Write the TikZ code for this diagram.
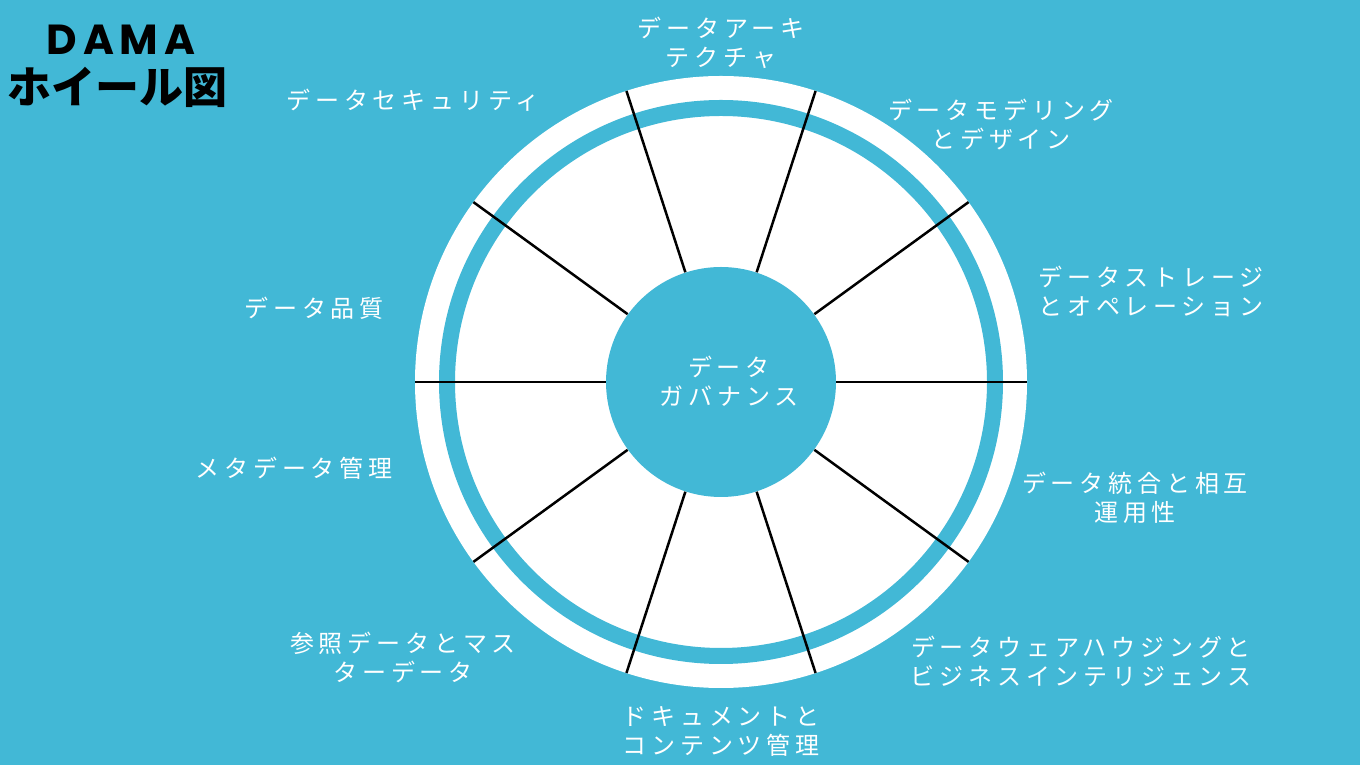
\documentclass[tikz,border=0pt]{standalone}
\usepackage{fontspec}
\newfontfamily\jpfont[LetterSpace=20]{Noto Sans CJK JP}
\newfontfamily\jptitle{Noto Sans CJK JP}
\newfontfamily\damafont[LetterSpace=14]{Poppins}
\definecolor{wheelblue}{RGB}{66,184,214}
\tikzset{
  lbl/.style={text=white, align=center, font=\jpfont\fontsize{12pt}{14.5pt}\selectfont},
  spoke/.style={black, line width=1.25pt},
  ttl/.style={inner sep=0pt, anchor=base, text depth=0pt},
}
\def\outerrad{306}
\def\ringrad{274}
\def\hubrad{115}

\begin{document}
\begin{tikzpicture}[x=0.5pt,y=0.5pt]
        % background
        \fill[wheelblue] (0,0) rectangle (1360,765);
        \useasboundingbox (0,0) rectangle (1360,765);
        % wheel
        \coordinate (c) at (721,383);
        \fill[white] (c) circle (\outerrad);
        \draw[wheelblue, line width=8pt] (c) circle (\ringrad);
        \node[circle, fill=wheelblue, inner sep=0pt, minimum size=\hubrad pt] (hub) at (c) {};
        % spokes
        \foreach \a in {0,36,...,324}
            \draw[spoke] (hub.\a) -- ([shift={(\a:\outerrad)}]c);
        % title
        \node[ttl, text height=14pt, font=\damafont\bfseries\fontsize{21pt}{24pt}\selectfont] (dama) at (121,710) {DAMA};
        \node[ttl, text height=19pt, font=\jptitle\bfseries\fontsize{22pt}{26pt}\selectfont] (title) at (118,661) {ホイール図};
        % knowledge areas
        \node[lbl] (gov) at (729,384) {データ\\ガバナンス};
        \node[lbl] (arch) at (721,722) {データアーキ\\テクチャ};
        \node[lbl] (model) at (1001,640) {データモデリング\\とデザイン};
        \node[lbl] (store) at (1151,474) {データストレージ\\とオペレーション};
        \node[lbl] (integ) at (1135,267) {データ統合と相互\\運用性};
        \node[lbl] (dw) at (1081,104) {データウェアハウジングと\\ビジネスインテリジェンス};
        \node[lbl] (doc) at (721,34) {ドキュメントと\\コンテンツ管理};
        \node[lbl] (ref) at (403,108) {参照データとマス\\ターデータ};
        \node[lbl] (meta) at (294,297) {メタデータ管理};
        \node[lbl] (qual) at (314,457) {データ品質};
        \node[lbl] (sec) at (413,665) {データセキュリティ};
    \end{tikzpicture}
\end{document}
